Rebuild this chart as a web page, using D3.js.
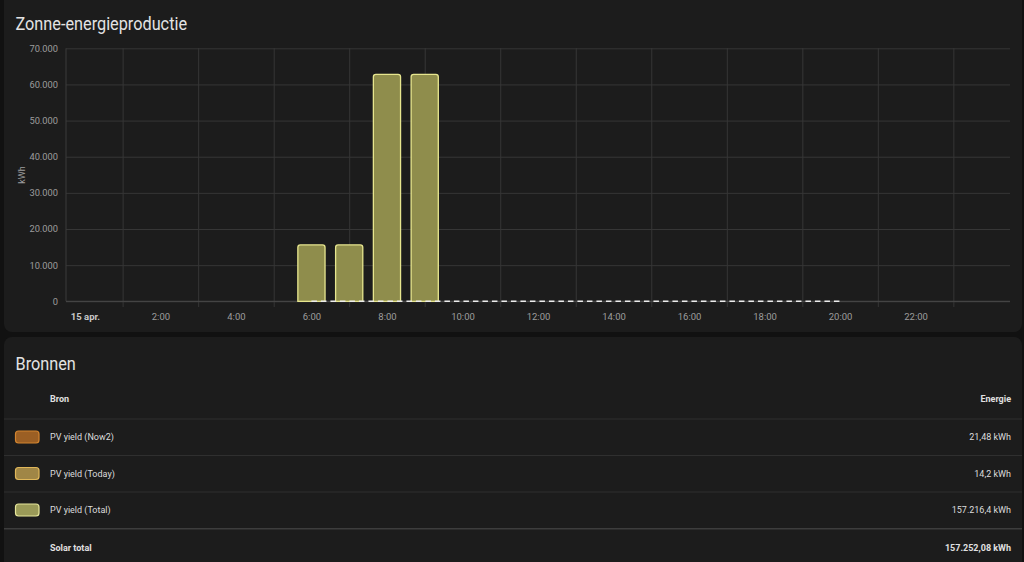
<!DOCTYPE html>
<html><head><meta charset="utf-8">
<script src="https://cdn.jsdelivr.net/npm/d3@7"></script>
<style>
html,body{margin:0;padding:0;background:#111111;overflow:hidden;}
svg{display:block;font-family:Roboto,"Noto Sans",sans-serif;}
</style></head>
<body>
<svg id="chart" width="1024" height="562"></svg>
<script>
// ---- data ----
const barHours = [6, 7, 8, 9];
const barValues = [15600, 15600, 62800, 62800];           // PV yield (Total), kWh
const lineHours = [6, 7, 8, 9, 10, 11, 12, 13, 14, 15, 16, 17, 18, 19, 20];
const lineValues = [0, 0, 0, 0, 0, 0, 0, 0, 0, 0, 0, 0, 0, 0, 0]; // PV yield (Today)
const yTicks = [0, 10000, 20000, 30000, 40000, 50000, 60000, 70000];
const xLabelHours = [0, 2, 4, 6, 8, 10, 12, 14, 16, 18, 20, 22];
const xLabels = ["15 apr.", "2:00", "4:00", "6:00", "8:00", "10:00", "12:00", "14:00", "16:00", "18:00", "20:00", "22:00"];
const gridHours = [1, 3, 5, 7, 9, 11, 13, 15, 17, 19, 21, 23];
const sourceNames = ["PV yield (Now2)", "PV yield (Today)", "PV yield (Total)"];
const sourceEnergy = ["21,48 kWh", "14,2 kWh", "157.216,4 kWh"];
const sourceFill = ["#9b5f24", "#a08646", "#9a9a58"];
const sourceStroke = ["#d2842f", "#e0b75a", "#e6e69a"];
const totalName = "Solar total";
const totalEnergy = "157.252,08 kWh";

const svg = d3.select("#chart");
const nl = d3.formatLocale({decimal: ",", thousands: ".", grouping: [3], currency: ["€", ""]});
const fmt = nl.format(",d");

// cards
svg.append("rect").attr("x", 4).attr("y", -10).attr("width", 1018).attr("height", 342).attr("rx", 8).attr("fill", "#1c1c1c");
svg.append("rect").attr("x", 4).attr("y", 337).attr("width", 1018).attr("height", 240).attr("rx", 8).attr("fill", "#1c1c1c");

svg.append("text").attr("transform", "translate(15.5,30) scale(0.88,1)").attr("font-size", 18.5).attr("fill", "#e3e3e3").text("Zonne-energieproductie");
svg.append("text").attr("transform", "translate(15.5,370) scale(0.88,1)").attr("font-size", 18.5).attr("fill", "#e3e3e3").text("Bronnen");

// scales
const x = d3.scaleLinear().domain([-0.5, 24.5]).range([66, 1010]);
const y = d3.scaleLinear().domain([0, 70000]).range([301.3, 48.3]);

// horizontal grid + y labels
const yAxis = d3.axisLeft(y).tickValues(yTicks).tickFormat(d => fmt(d)).tickSize(-(1010 - 66)).tickPadding(8);
const gy = svg.append("g").attr("transform", "translate(66,0)").call(yAxis);
gy.select(".domain").remove();
gy.selectAll(".tick line").attr("stroke", "#363636").attr("stroke-width", 1);
gy.selectAll(".tick text").attr("fill", "#9c9c9c").attr("font-size", 9.3).attr("font-family", "Roboto,sans-serif");

// vertical grid lines
const xGrid = d3.axisBottom(x).tickValues(gridHours).tickSize(-(301.3 - 48.3) - 6).tickFormat("");
const gx = svg.append("g").attr("transform", "translate(0,307)").call(xGrid);
gx.select(".domain").remove();
gx.selectAll(".tick line").attr("stroke", "#363636");
svg.append("line").attr("x1", 66).attr("x2", 66).attr("y1", 48.3).attr("y2", 301.3).attr("stroke", "#3a3a3a");
svg.append("line").attr("x1", 66).attr("x2", 1010).attr("y1", y(0)).attr("y2", y(0)).attr("stroke", "#4a4a4a");

// x labels
const xAxis = d3.axisBottom(x).tickValues(xLabelHours).tickSize(0).tickPadding(11)
  .tickFormat((d, i) => xLabels[i]);
const gxl = svg.append("g").attr("transform", "translate(0,302)").call(xAxis);
gxl.select(".domain").remove();
gxl.selectAll(".tick text").attr("fill", "#9c9c9c").attr("font-size", 9.5).attr("font-family", "Roboto,sans-serif")
  .filter((d, i) => i === 0).attr("font-weight", "bold").attr("fill", "#c8c8c8");

// y axis title
svg.append("text").attr("transform", "translate(25,175) rotate(-90)").attr("text-anchor", "middle")
  .attr("font-size", 9).attr("fill", "#9c9c9c").text("kWh");

// bars
const half = 0.36, r = 2.5;
svg.append("g").selectAll("path").data(barHours.map((h, i) => ({h, v: barValues[i]}))).join("path")
  .attr("d", d => {
    const x0 = x(d.h - half), x1 = x(d.h + half), y0 = y(0), y1 = y(d.v);
    return `M${x0},${y0}V${y1 + r}Q${x0},${y1} ${x0 + r},${y1}H${x1 - r}Q${x1},${y1} ${x1},${y1 + r}V${y0}Z`;
  })
  .attr("fill", "#8f8d4c").attr("stroke", "#e7e68e").attr("stroke-width", 1.3);

// dashed line
const line = d3.line().x((d, i) => x(lineHours[i])).y(d => y(d));
svg.append("path").datum(lineValues).attr("d", line).attr("fill", "none")
  .attr("stroke", "#ececec").attr("stroke-width", 1.4).attr("stroke-dasharray", "5.5,4");

// table
const tbl = svg.append("g").attr("font-family", "Roboto,sans-serif");
tbl.append("text").attr("x", 50).attr("y", 402).attr("font-size", 9).attr("font-weight", "bold").attr("fill", "#e0e0e0").text("Bron");
tbl.append("text").attr("x", 1011).attr("y", 402).attr("text-anchor", "end").attr("font-size", 9).attr("font-weight", "bold").attr("fill", "#e0e0e0").text("Energie");
const sepY = [419, 455.5, 492];
sepY.forEach(s => tbl.append("line").attr("x1", 4).attr("x2", 1022).attr("y1", s).attr("y2", s).attr("stroke", "#2f2f2f"));
tbl.append("line").attr("x1", 4).attr("x2", 1022).attr("y1", 528.8).attr("y2", 528.8).attr("stroke", "#3d3d3d").attr("stroke-width", 1.5);
const rowY = [437, 473.5, 510];
sourceNames.forEach((n, i) => {
  tbl.append("rect").attr("x", 15.5).attr("y", rowY[i] - 6).attr("width", 23.5).attr("height", 12).attr("rx", 3)
    .attr("fill", sourceFill[i]).attr("stroke", sourceStroke[i]).attr("stroke-width", 1.2);
  tbl.append("text").attr("x", 50).attr("y", rowY[i] + 3.3).attr("font-size", 9).attr("fill", "#dcdcdc").text(n);
  tbl.append("text").attr("x", 1011).attr("y", rowY[i] + 3.3).attr("text-anchor", "end").attr("font-size", 9).attr("fill", "#dcdcdc").text(sourceEnergy[i]);
});
tbl.append("text").attr("x", 50).attr("y", 550.5).attr("font-size", 9).attr("font-weight", "bold").attr("fill", "#e0e0e0").text(totalName);
tbl.append("text").attr("x", 1011).attr("y", 550.5).attr("text-anchor", "end").attr("font-size", 9).attr("font-weight", "bold").attr("fill", "#e0e0e0").text(totalEnergy);
</script>
</body></html>
